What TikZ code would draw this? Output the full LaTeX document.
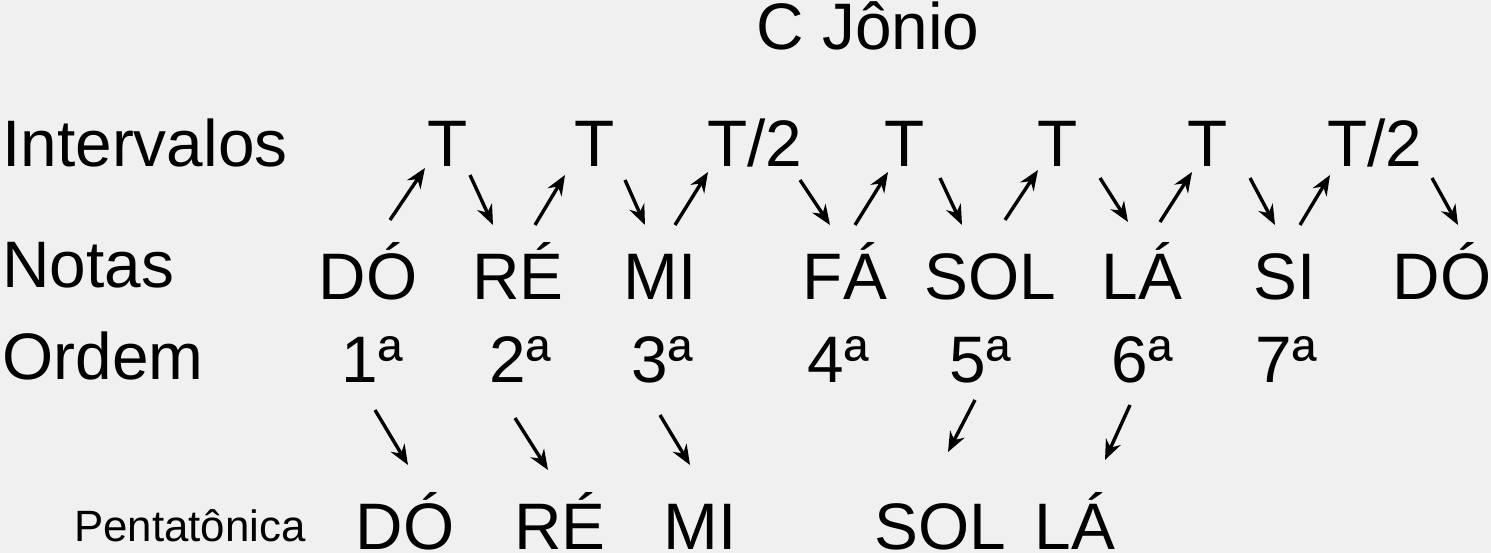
\documentclass[tikz,border=0pt]{standalone}
\usepackage{fontspec}
\setmainfont{Liberation Sans}
\usetikzlibrary{arrows.meta}
\begin{document}
\begin{tikzpicture}[x=0.5bp,y=-0.5bp,
  big/.style={font=\fontsize{33}{33}\selectfont,inner sep=0pt,anchor=base},
  small/.style={font=\fontsize{22}{22}\selectfont,inner sep=0pt,anchor=base},
  arr/.style={-{Stealth[length=10bp,width=8bp]},line width=1.7bp}]
\fill[gray!12] (0,0) rectangle (1491,553);
\useasboundingbox (0,0) rectangle (1491,553);
\node[big] (title) at (868,50) {C Jônio};
\node[big,anchor=base west] (li) at (2,167) {Intervalos};
\node[big,anchor=base west] (ln) at (2,288) {Notas};
\node[big,anchor=base west] (lo) at (2,380) {Ordem};
\node[small] (lp) at (190,541) {Pentatônica};
\foreach \n/\x/\t in {i1/448/T,i2/595/T,i3/755/{T/2},i4/905/T,i5/1058/T,i6/1208/T,i7/1375/{T/2}}
  \node[big] (\n) at (\x,167) {\t};
\foreach \n/\x/\t in {n1/368/DÓ,n2/518/RÉ,n3/660/MI,n4/845/FÁ,n5/990/SOL,n6/1142/LÁ,n7/1285/SI,n8/1442/DÓ}
  \node[big] (\n) at (\x,300) {\t};
\foreach \n/\x/\t in {o1/372/1,o2/520/2,o3/662/3,o4/838/4,o5/980/5,o6/1142/6,o7/1286/7}
  \node[big] (\n) at (\x,383) {\t ª};
\foreach \n/\x/\t in {p1/405/DÓ,p2/560/RÉ,p3/700/MI,p4/940/SOL,p5/1075/LÁ}
  \node[big] (\n) at (\x,549) {\t};
\foreach \a/\b/\c/\d in {390/220/425/168,535/225/565/175,675/225/708/172,855/225/888/172,1005/220/1038/170,1160/222/1192/172,1300/225/1330/175,
  470/175/493/225,625/180/645/225,800/180/830/225,940/178/962/225,1100/178/1128/222,1250/178/1275/225,1432/178/1458/225,
  375/410/408/465,515/418/548/470,660/415/690/465,975/400/948/452,1130/405/1105/460}
  \draw[arr] (\a,\b) coordinate (s) -- (\c,\d) coordinate (e);
\end{tikzpicture}
\end{document}
